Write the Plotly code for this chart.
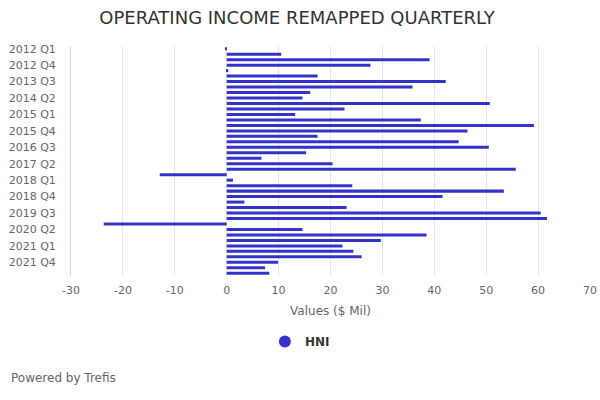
import plotly.graph_objects as go

quarters = [f"{y} Q{q}" for y in range(2012, 2023) for q in range(1, 5)][:42]
values = [-0.2, 10.5, 39.1, 27.7,
          0.3, 17.5, 42.2, 35.8,
          16.1, 14.6, 50.7, 22.7,
          13.2, 37.4, 59.2, 46.4,
          17.5, 44.7, 50.5, 15.3,
          6.7, 20.4, 55.7, -12.9,
          1.2, 24.2, 53.4, 41.6,
          3.4, 23.1, 60.5, 61.7,
          -23.7, 14.6, 38.5, 29.7,
          22.3, 24.4, 26.0, 9.9,
          7.4, 8.2]
tick_labels = quarters[::3]
x_ticks = [-30, -20, -10, 0, 10, 20, 30, 40, 50, 60, 70]
x_tick_text = [str(v) for v in x_ticks]

fig = go.Figure()
fig.add_trace(go.Bar(
    y=quarters, x=values, orientation="h", name="HNI",
    marker=dict(color="#3333cc", line=dict(width=0)),
    showlegend=False,
))
fig.add_trace(go.Scatter(
    x=[None], y=[None], mode="markers", name="<b>HNI</b>",
    marker=dict(color="#3333cc", size=13, symbol="circle"),
))

fig.update_layout(
    width=600, height=400,
    paper_bgcolor="white", plot_bgcolor="white",
    font=dict(family="DejaVu Sans", color="#666666", size=11),
    title=dict(text="OPERATING INCOME REMAPPED QUARTERLY", x=0.495, xanchor="center",
               y=0.955, yanchor="middle",
               font=dict(size=18, color="#333333", family="DejaVu Sans")),
    margin=dict(l=71, r=10, t=46, b=124),
    bargap=0.45,
    xaxis=dict(range=[-30, 70], tickvals=x_ticks, ticktext=x_tick_text, showgrid=True,
               gridcolor="#e6e6e6", zeroline=False, ticks="", automargin=False,
               ticklabelstandoff=6,
               tickfont=dict(size=11, color="#666666"),
               title=dict(text="Values ($ Mil)", font=dict(size=12, color="#666666"), standoff=10)),
    yaxis=dict(categoryorder="array", categoryarray=quarters, autorange="reversed",
               tickvals=tick_labels, ticktext=tick_labels, showgrid=False, automargin=False,
               showline=True, linecolor="#ccd6eb", linewidth=1, ticks="",
               ticklabelstandoff=12,
               tickfont=dict(size=11, color="#666666")),
    legend=dict(orientation="h", x=0.441, xanchor="center", y=-0.285, yanchor="middle",
                font=dict(size=12, color="#333333", family="DejaVu Sans"),
                itemwidth=30, itemsizing="constant"),
    annotations=[dict(text="Powered by Trefis", xref="paper", yref="paper",
                      x=-0.12, y=-0.445, xanchor="left", yanchor="middle", showarrow=False,
                      font=dict(size=12, color="#666666"))],
)
fig.write_html("out.html", config={"displayModeBar": False},
               post_script="document.body.style.margin='0';")
